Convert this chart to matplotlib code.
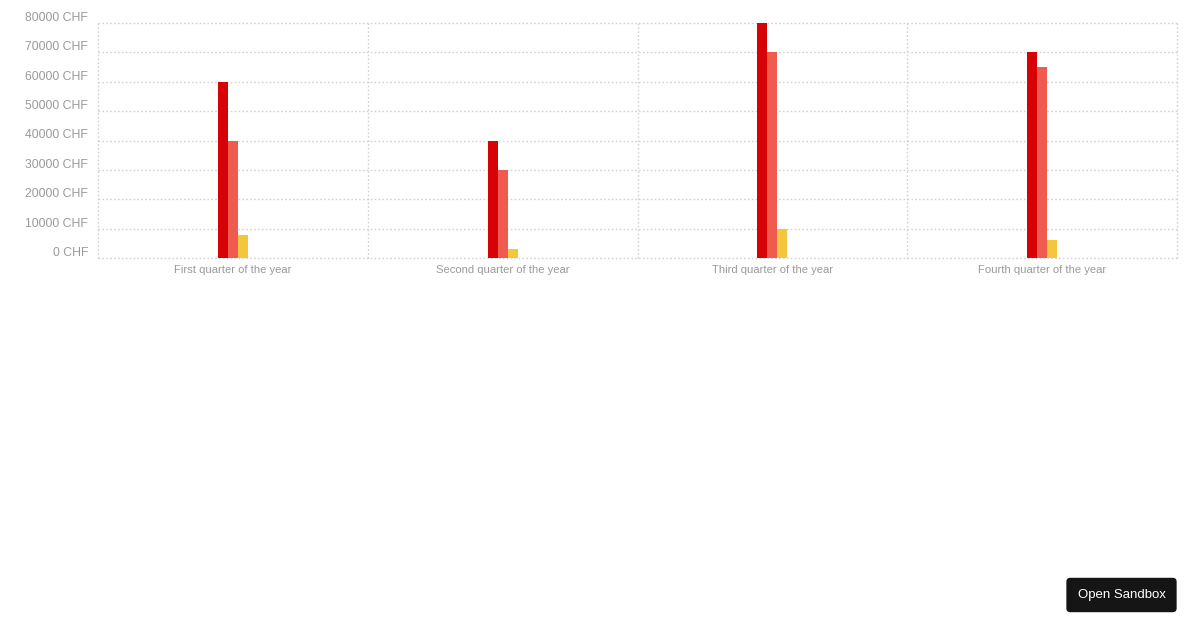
import matplotlib
matplotlib.use('Agg')
import matplotlib.pyplot as plt
from matplotlib.transforms import offset_copy
import numpy as np

# ─── DATA ────────────────────────────────────────────────────────────────────
QUARTERS = ['First quarter of the year', 'Second quarter of the year',
            'Third quarter of the year', 'Fourth quarter of the year']
SERIES_A = [60000, 40000, 80000, 70000]
SERIES_B = [40000, 30000, 70000, 65000]
SERIES_C = [8000, 3000, 10000, 6000]
Y_TICKS = [0, 10000, 20000, 30000, 40000, 50000, 60000, 70000, 80000]

COLORS = ['#d70206', '#f05b4f', '#f4c63d']
LABEL_GRAY = '#9a9a9a'
GRID_GRAY = '#d2d2d2'

plt.rcParams['font.family'] = ['Liberation Sans', 'DejaVu Sans']

W, H = 1200, 630
fig = plt.figure(figsize=(W / 100, H / 100), dpi=100)
ax = fig.add_axes([98 / W, 1 - 258 / H, (1177 - 98) / W, (258 - 23) / H])

x = np.arange(len(QUARTERS))
bar_w = 10 / ((1177 - 98) / len(QUARTERS))   # 10 px wide bars
for i, (vals, col) in enumerate(zip([SERIES_A, SERIES_B, SERIES_C], COLORS)):
    ax.bar(x + (i - 1) * bar_w, vals, width=bar_w, color=col,
           linewidth=0, zorder=3)

ax.set_xlim(-0.5, len(QUARTERS) - 0.5)
ax.set_ylim(0, 80000)

# grid: horizontal at y ticks, vertical at category boundaries
ax.set_yticks(Y_TICKS)
ax.set_yticklabels([f'{v} CHF' for v in Y_TICKS])
ax.set_xticks(x)
ax.set_xticklabels(QUARTERS)
ax.set_xticks(np.arange(len(QUARTERS) + 1) - 0.5, minor=True)
ax.grid(axis='y', which='major', color=GRID_GRAY, linestyle=(0, (1.2, 1.6)),
        linewidth=1, zorder=0, clip_on=False)
ax.grid(axis='x', which='minor', color=GRID_GRAY, linestyle=(0, (1.2, 1.6)),
        linewidth=1, zorder=0, clip_on=False)
ax.tick_params(which='both', length=0)
ax.tick_params(axis='y', pad=10, labelsize=8.8, labelcolor=LABEL_GRAY)
ax.tick_params(axis='x', pad=5, labelsize=8.1, labelcolor=LABEL_GRAY)
for lab in ax.get_yticklabels():
    lab.set_va('bottom')
    lab.set_transform(offset_copy(lab.get_transform(), fig=fig, x=4, y=-1, units='dots'))
for s in ax.spines.values():
    s.set_visible(False)

# "Open Sandbox" button from the page
fig.text(1121.5 / W, 1 - 595 / H, 'Open Sandbox', color='white', fontsize=9.5,
         ha='center', va='center',
         bbox=dict(boxstyle='round,pad=0.85,rounding_size=0.3',
                   facecolor='#151515', edgecolor='none'))

fig.savefig('out.png', dpi=100)
